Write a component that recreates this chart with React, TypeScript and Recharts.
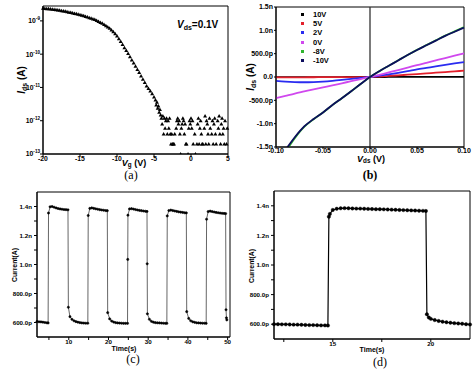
import React from "react";
import { ScatterChart, Scatter, LineChart, Line, XAxis, YAxis, ReferenceLine, ReferenceArea } from "recharts";

const SANS = '"Liberation Sans", Arial, Helvetica, sans-serif';
const SERIF = '"Liberation Serif", "Times New Roman", serif';

// (a) transfer curve, Vds = 0.1 V  [Vg (V), Ids (A)]
const sweepA: [number, number][] = [
  [-20, 2.4e-9], [-19.75, 2.37e-9], [-19.5, 2.34e-9], [-19.25, 2.32e-9], [-19, 2.29e-9],
  [-18.75, 2.25e-9], [-18.5, 2.21e-9], [-18.25, 2.18e-9], [-18, 2.14e-9], [-17.75, 2.09e-9],
  [-17.5, 2.04e-9], [-17.25, 2.0e-9], [-17, 1.95e-9], [-16.75, 1.9e-9], [-16.5, 1.84e-9],
  [-16.25, 1.79e-9], [-16, 1.74e-9], [-15.75, 1.69e-9], [-15.5, 1.64e-9], [-15.25, 1.59e-9],
  [-15, 1.55e-9], [-14.75, 1.49e-9], [-14.5, 1.43e-9], [-14.25, 1.37e-9], [-14, 1.32e-9],
  [-13.75, 1.26e-9], [-13.5, 1.2e-9], [-13.25, 1.15e-9], [-13, 1.1e-9], [-12.75, 1.03e-9],
  [-12.5, 9.66e-10], [-12.25, 9.08e-10], [-12, 8.51e-10], [-11.75, 7.82e-10], [-11.5, 7.16e-10],
  [-11.25, 6.58e-10], [-11, 6.03e-10], [-10.75, 5.37e-10], [-10.5, 4.73e-10], [-10.25, 4.12e-10],
  [-10, 3.55e-10], [-9.75, 2.92e-10], [-9.5, 2.4e-10], [-9.25, 1.95e-10], [-9, 1.58e-10],
  [-8.75, 1.29e-10], [-8.5, 1.05e-10], [-8.25, 8.41e-11], [-8, 6.76e-11], [-7.75, 5.43e-11],
  [-7.5, 4.37e-11], [-7.25, 3.51e-11], [-7, 2.82e-11], [-6.75, 2.24e-11], [-6.5, 1.78e-11],
  [-6.25, 1.41e-11], [-6, 1.12e-11], [-5.75, 9.3e-12], [-5.5, 7.9e-12], [-5.25, 6.5e-12],
  [-5, 5.2e-12], [-4.8, 4.2e-12], [-4.7, 3.0e-12], [-4.6, 3.6e-12], [-4.5, 2.4e-12],
  [-4.4, 2.8e-12], [-4.3, 1.8e-12], [-4.2, 2.2e-12], [-4.1, 1.5e-12],
];
const noiseA: [number, number][] = [
  [-4.0, 1.2e-12], [-3.9, 8e-13], [-3.8, 1.4e-12], [-3.7, 4e-13], [-3.6, 1.2e-12], [-3.5, 6e-13],
  [-3.4, 1e-12], [-3.3, 1.2e-12], [-3.2, 4e-13], [-3.1, 1e-12], [-3.0, 6e-13], [-2.9, 1.2e-12],
  [-2.8, 4e-13], [-2.7, 2e-13], [-2.6, 4e-13], [-2.5, 2e-13], [-2.4, 2e-13], [-2.3, 2e-13],
  [-2.2, 4e-13], [-2.0, 6e-13], [-1.9, 1e-12], [-1.8, 1.2e-12], [-1.7, 8e-13], [-1.6, 1e-12],
  [-1.5, 4e-13], [-1.4, 1e-13], [-1.3, 6e-13], [-1.2, 8e-13], [-1.1, 1.2e-12], [-1.0, 1e-12],
  [-0.9, 4e-13], [-0.8, 8e-13], [-0.7, 2e-13], [-0.6, 2e-13], [-0.4, 1e-13], [-0.3, 6e-13],
  [-0.2, 1e-12], [-0.1, 8e-13], [0.0, 1.2e-12], [0.1, 6e-13], [0.2, 1e-12], [0.3, 2e-13],
  [0.5, 4e-13], [0.6, 1e-13], [0.8, 2e-13], [0.9, 8e-13], [1.0, 1.2e-12], [1.1, 2e-13],
  [1.2, 6e-13], [1.3, 1e-12], [1.4, 4e-13], [1.5, 2e-13], [1.6, 2e-13], [1.8, 6e-13],
  [1.9, 1.4e-12], [2.0, 2e-13], [2.1, 1e-12], [2.2, 8e-13], [2.3, 4e-13], [2.4, 2e-13],
  [2.5, 1.2e-12], [2.6, 6e-13], [2.8, 4e-13], [2.9, 1e-12], [3.0, 2e-13], [3.1, 8e-13],
  [3.2, 1.2e-12], [3.3, 4e-13], [3.4, 2e-13], [3.6, 1e-12], [3.7, 6e-13], [3.8, 1.4e-12],
  [3.9, 4e-13], [4.0, 2e-13], [4.1, 8e-13], [4.2, 1.2e-12], [4.3, 4e-13], [4.4, 6e-13],
  [4.5, 2e-13], [4.6, 1e-12], [4.8, 2e-13], [4.9, 6e-13],
];
const xTicksA = [-20, -15, -10, -5, 0, 5];
const xLabelsA = ["-20", "-15", "-10", "-5", "0", "5"];
const yTicksA = [1e-13, 1e-12, 1e-11, 1e-10, 1e-9];
const yExpA = ["-13", "-12", "-11", "-10", "-9"];

// (b) output curves, Ids in nA
const vdsB = [-0.1, -0.09, -0.08, -0.07, -0.06, -0.05, -0.04, -0.03, -0.02, -0.01, 0, 0.01, 0.02, 0.03, 0.04, 0.05, 0.06, 0.07, 0.08, 0.09, 0.1];
const ids10V = [-0.002, -0.002, -0.002, -0.001, -0.001, -0.001, -0.001, -0.001, 0, 0, 0, 0, 0.001, 0.001, 0.001, 0.002, 0.002, 0.003, 0.003, 0.004, 0.004];
const ids5V = [-0.008, -0.007, -0.007, -0.006, -0.005, -0.004, -0.004, -0.003, -0.002, -0.001, 0, 0.01, 0.022, 0.035, 0.049, 0.063, 0.077, 0.092, 0.106, 0.121, 0.136];
const ids2V = [-0.082, -0.098, -0.108, -0.112, -0.108, -0.098, -0.082, -0.062, -0.04, -0.02, 0, 0.028, 0.058, 0.09, 0.125, 0.162, 0.195, 0.228, 0.26, 0.29, 0.318];
const ids0V = [-0.455, -0.405, -0.355, -0.31, -0.265, -0.222, -0.18, -0.135, -0.09, -0.045, 0, 0.048, 0.098, 0.148, 0.2, 0.255, 0.305, 0.355, 0.405, 0.458, 0.508];
const idsM8V = [-1.83, -1.6, -1.31, -1.07, -0.905, -0.762, -0.602, -0.456, -0.306, -0.151, 0, 0.126, 0.242, 0.357, 0.472, 0.582, 0.684, 0.785, 0.886, 0.977, 1.07];
const idsM10V = [-1.79, -1.56, -1.29, -1.06, -0.9, -0.76, -0.6, -0.455, -0.305, -0.15, 0, 0.125, 0.24, 0.355, 0.47, 0.579, 0.68, 0.78, 0.88, 0.97, 1.058];
const seriesB = [
  { key: "s10", name: "10V", color: "#000000", values: ids10V },
  { key: "s5", name: "5V", color: "#e3202c", values: ids5V },
  { key: "s2", name: "2V", color: "#2a2cf0", values: ids2V },
  { key: "s0", name: "0V", color: "#d048ee", values: ids0V },
  { key: "sm8", name: "-8V", color: "#2fb52f", values: idsM8V },
  { key: "sm10", name: "-10V", color: "#0d0d5e", values: idsM10V },
];
const xTicksB = [-0.1, -0.05, 0, 0.05, 0.1];
const xLabelsB = ["-0.10", "-0.05", "0.00", "0.05", "0.10"];
const yTicksB = [-1.5, -1, -0.5, 0, 0.5, 1, 1.5];
const yLabelsB = ["-1.5n", "-1.0n", "-500.0p", "0.0", "500.0p", "1.0n", "1.5n"];

// (c) repeated light pulses [time (s), current (nA)]
const pulseC: [number, number][] = [
  [2.0, 0.607], [2.5, 0.605], [3.0, 0.604], [3.5, 0.602], [4.0, 0.6], [4.5, 0.598], [4.8, 0.597],
  [4.9, 1.355], [5.3, 1.398], [5.8, 1.4], [6.3, 1.395], [6.8, 1.39], [7.3, 1.386], [7.8, 1.383], [8.3, 1.381], [8.8, 1.379], [9.3, 1.378], [9.8, 1.377],
  [9.9, 0.705], [10.3, 0.64], [10.8, 0.622], [11.3, 0.612], [11.8, 0.606], [12.3, 0.602], [12.8, 0.599], [13.3, 0.597], [13.8, 0.596], [14.3, 0.595], [14.8, 0.595],
  [14.9, 1.338], [15.3, 1.387], [15.8, 1.39], [16.3, 1.387], [16.8, 1.384], [17.3, 1.381], [17.8, 1.378], [18.3, 1.376], [18.8, 1.374], [19.3, 1.372], [19.7, 1.371],
  [19.8, 0.668], [20.3, 0.625], [20.8, 0.61], [21.3, 0.603], [21.8, 0.599], [22.3, 0.597], [22.8, 0.596], [23.3, 0.595], [23.8, 0.594], [24.3, 0.594], [24.8, 0.594],
  [24.85, 1.035], [24.9, 1.34], [25.3, 1.383], [25.8, 1.385], [26.3, 1.382], [26.8, 1.379], [27.3, 1.376], [27.8, 1.373], [28.3, 1.371], [28.8, 1.369], [29.3, 1.367], [29.7, 1.366],
  [29.75, 1.005], [29.8, 0.66], [30.3, 0.622], [30.8, 0.608], [31.3, 0.602], [31.8, 0.599], [32.3, 0.598], [32.8, 0.597], [33.3, 0.596], [33.8, 0.595], [34.3, 0.594], [34.7, 0.594],
  [34.8, 1.335], [35.2, 1.372], [35.7, 1.375], [36.2, 1.372], [36.7, 1.369], [37.2, 1.366], [37.7, 1.363], [38.2, 1.361], [38.7, 1.359], [39.2, 1.357], [39.6, 1.356],
  [39.7, 0.675], [40.2, 0.628], [40.7, 0.612], [41.2, 0.605], [41.7, 0.601], [42.2, 0.598], [42.7, 0.597], [43.2, 0.596], [43.7, 0.595], [44.2, 0.595], [44.6, 0.594],
  [44.7, 1.312], [45.1, 1.365], [45.6, 1.368], [46.1, 1.365], [46.6, 1.362], [47.1, 1.359], [47.6, 1.357], [48.1, 1.355], [48.6, 1.353], [49.1, 1.352], [49.5, 1.351],
  [49.6, 0.688], [49.7, 0.632], [49.8, 0.618],
];
const xTicksC = [5, 10, 15, 20, 25, 30, 35, 40, 45, 50];
const xLabelsC = ["", "10", "", "20", "", "30", "", "40", "", "50"];
const yTicksCD = [0.6, 0.7, 0.8, 0.9, 1.0, 1.1, 1.2, 1.3, 1.4];
const yLabelsCD = ["600.0p", "", "800.0p", "", "1.0n", "", "1.2n", "", "1.4n"];

// (d) single pulse
const pulseD: [number, number][] = [
  [12.0, 0.6], [12.2, 0.6], [12.4, 0.599], [12.6, 0.599], [12.8, 0.598], [13.0, 0.597], [13.2, 0.597], [13.4, 0.596],
  [13.6, 0.595], [13.8, 0.594], [14.0, 0.594], [14.2, 0.593], [14.4, 0.592], [14.6, 0.592], [14.75, 0.591],
  [14.8, 1.326], [14.85, 1.345], [15.0, 1.372], [15.2, 1.38], [15.4, 1.383], [15.6, 1.384], [15.8, 1.383], [16.0, 1.382],
  [16.2, 1.381], [16.4, 1.381], [16.6, 1.38], [16.8, 1.379], [17.0, 1.378], [17.2, 1.377], [17.4, 1.377], [17.6, 1.376],
  [17.8, 1.375], [18.0, 1.374], [18.2, 1.373], [18.4, 1.372], [18.6, 1.371], [18.8, 1.37], [19.0, 1.369], [19.2, 1.368],
  [19.4, 1.367], [19.6, 1.366], [19.75, 1.365],
  [19.8, 0.667], [19.9, 0.645], [20.0, 0.636], [20.2, 0.628], [20.4, 0.622], [20.6, 0.617], [20.8, 0.613], [21.0, 0.61],
  [21.2, 0.607], [21.4, 0.605], [21.6, 0.603], [21.8, 0.6], [22.0, 0.598],
];
const xTicksD = [12.5, 15, 17.5, 20];
const xLabelsD = ["", "15", "", "20"];

const tickFont = (size: number) => ({ fontFamily: SANS, fontSize: size, fontWeight: 700, fill: "#000" });
const axisProps = { axisLine: { stroke: "#000" }, tickLine: { stroke: "#000" }, tickMargin: 0, interval: 0 as const };

const yTick = (labels: string[], dx: number, size: number) => (p: any) => (
  <text x={p.x + dx} y={p.y + size * 0.35} textAnchor="end" style={tickFont(size)}>{labels[p.index]}</text>
);
const xTick = (labels: string[], dy: number, size: number) => (p: any) => (
  <text x={p.x} y={p.y + dy} textAnchor="middle" style={tickFont(size)}>{labels[p.index]}</text>
);
const logTick = (p: any) => (
  <text x={p.x} y={p.y + 2.4} textAnchor="end" style={tickFont(6.8)}>
    10<tspan dy={-3} fontSize={4.6}>{yExpA[p.index]}</tspan>
  </text>
);

const Triangle = (p: any) => (
  <polygon points={`${p.cx - 2},${p.cy + 1.6} ${p.cx + 2},${p.cy + 1.6} ${p.cx},${p.cy - 1.9}`} fill="#000" />
);

function Title({ x, y, rotate, size = 10, children }: any) {
  return (
    <div
      style={{
        position: "absolute", left: x, top: y, whiteSpace: "nowrap", fontFamily: SANS, fontWeight: 700,
        fontSize: size, lineHeight: 1, transform: `translate(-50%, -50%)${rotate ? " rotate(-90deg)" : ""}`,
      }}
    >
      {children}
    </div>
  );
}
const Sub = ({ children }: any) => (
  <span style={{ fontSize: "0.7em", position: "relative", top: "0.25em" }}>{children}</span>
);
function PanelTag({ x, y, bold, children }: any) {
  return (
    <div style={{ position: "absolute", left: x, top: y, transform: "translate(-50%, -50%)", fontFamily: SERIF, fontSize: 12, fontWeight: bold ? 700 : 400, lineHeight: 1 }}>
      {children}
    </div>
  );
}

export default function App() {
  const pointsA = sweepA.concat(noiseA).map(([x, y]) => ({ x, y }));
  const tableB = vdsB.map((v, i) => {
    const row: any = { v };
    seriesB.forEach((s) => (row[s.key] = s.values[i]));
    return row;
  });
  const dataC = pulseC.map(([t, i]) => ({ t, i }));
  const dataD = pulseD.map(([t, i]) => ({ t, i }));

  return (
    <div style={{ position: "absolute", left: 0, top: 0, width: 474, height: 370, background: "#fff", overflow: "hidden" }}>
      {/* (a) */}
      <div style={{ position: "absolute", left: 0, top: 0 }}>
        <ScatterChart width={237} height={185} margin={{ top: 6, right: 9, left: 0, bottom: 0 }}>
          <XAxis type="number" dataKey="x" domain={[-20, 5]} ticks={xTicksA} height={31} tickSize={3} tick={xTick(xLabelsA, 4.3, 6.8)} {...axisProps} />
          <YAxis type="number" dataKey="y" scale="log" domain={[1e-13, 2.8e-9]} allowDataOverflow ticks={yTicksA} width={43} tickSize={3} tick={logTick} {...axisProps} />
          <ReferenceArea x1={-20} x2={5} y1={1e-13} y2={2.8e-9} fill="none" stroke="#000" strokeWidth={1} />
          <Scatter data={pointsA} shape={Triangle} isAnimationActive={false} />
        </ScatterChart>
      </div>

      {/* (b) */}
      <div style={{ position: "absolute", left: 237, top: 0 }}>
        <LineChart width={237} height={185} data={tableB} margin={{ top: 7, right: 10, left: 0, bottom: 0 }}>
          <XAxis type="number" dataKey="v" domain={[-0.1, 0.1]} ticks={xTicksB} height={38} tickSize={2} tick={xTick(xLabelsB, 3.7, 7)} {...axisProps} />
          <YAxis type="number" domain={[-1.5, 1.5]} allowDataOverflow ticks={yTicksB} width={39} tickSize={2} tick={yTick(yLabelsB, -1, 7)} {...axisProps} />
          <ReferenceArea x1={-0.1} x2={0.1} y1={-1.5} y2={1.5} fill="none" stroke="#000" strokeWidth={1} />
          <ReferenceLine x={0} stroke="#333" strokeWidth={1.3} />
          {seriesB.map((s) => (
            <Line key={s.key} type="monotone" dataKey={s.key} stroke={s.color} strokeWidth={1.8} dot={false} isAnimationActive={false} />
          ))}
        </LineChart>
      </div>

      {/* (c) */}
      <div style={{ position: "absolute", left: 0, top: 185 }}>
        <LineChart width={237} height={185} data={dataC} margin={{ top: 7, right: 7, left: 0, bottom: 0 }}>
          <XAxis type="number" dataKey="t" domain={[2, 50.6]} ticks={xTicksC} height={33} tickSize={3} tick={xTick(xLabelsC, 3.9, 6.2)} {...axisProps} />
          <YAxis type="number" domain={[0.5, 1.5]} ticks={yTicksCD} width={37} tickSize={3} tick={yTick(yLabelsCD, -2, 6.2)} {...axisProps} />
          <ReferenceArea x1={2} x2={50.6} y1={0.5} y2={1.5} fill="none" stroke="#000" strokeWidth={1} />
          <Line type="linear" dataKey="i" stroke="#555" strokeWidth={0.9} dot={{ r: 1.1, fill: "#000", stroke: "#000", strokeWidth: 0.6 }} isAnimationActive={false} />
        </LineChart>
      </div>

      {/* (d) */}
      <div style={{ position: "absolute", left: 237, top: 185 }}>
        <LineChart width={237} height={185} data={dataD} margin={{ top: 6, right: 4, left: 0, bottom: 0 }}>
          <XAxis type="number" dataKey="t" domain={[12, 22]} ticks={xTicksD} height={31} tickSize={3} tick={xTick(xLabelsD, 4.2, 6.2)} {...axisProps} />
          <YAxis type="number" domain={[0.5, 1.5]} ticks={yTicksCD} width={37} tickSize={3} tick={yTick(yLabelsCD, -2, 6.2)} {...axisProps} />
          <ReferenceArea x1={12} x2={22} y1={0.5} y2={1.5} fill="none" stroke="#000" strokeWidth={1} />
          <Line type="linear" dataKey="i" stroke="#000" strokeWidth={1.2} dot={{ r: 1.7, fill: "#000", stroke: "#000", strokeWidth: 0.4 }} isAnimationActive={false} />
        </LineChart>
      </div>

      {/* titles (a) */}
      <Title x={22} y={80} rotate><i>I</i><Sub>ds</Sub> (A)</Title>
      <Title x={134} y={162.5} size={9}><i>V</i><Sub>g</Sub> (V)</Title>
      <div style={{ position: "absolute", left: 177, top: 20, fontFamily: SANS, fontWeight: 700, fontSize: 10, lineHeight: 1, whiteSpace: "nowrap" }}>
        <i>V</i><Sub>ds</Sub>=0.1V
      </div>
      <PanelTag x={131} y={175}>(a)</PanelTag>

      {/* titles (b) + legend */}
      <Title x={251} y={77} rotate><i>I</i><Sub>ds</Sub> (A)</Title>
      <Title x={371} y={158.5} size={9}><i>V</i><Sub>ds</Sub> (V)</Title>
      {seriesB.map((s, i) => (
        <div key={s.key} style={{ position: "absolute", left: 301, top: 10 + i * 9.2, height: 9, display: "flex", alignItems: "center", fontFamily: SANS, fontWeight: 700, fontSize: 7.5, whiteSpace: "nowrap" }}>
          <span style={{ display: "inline-block", width: 3, height: 3, background: s.color, marginRight: 9 }} />
          {s.name}
        </div>
      ))}
      <PanelTag x={370} y={175} bold>(b)</PanelTag>

      {/* titles (c) */}
      <Title x={15} y={265} rotate size={6.8}>Current(A)</Title>
      <Title x={124} y={348} size={7}>Time(s)</Title>
      <PanelTag x={133} y={359}>(c)</PanelTag>

      {/* titles (d) */}
      <Title x={252} y={266} rotate size={6.8}>Current(A)</Title>
      <Title x={372} y={349} size={7}>Time(s)</Title>
      <PanelTag x={380} y={362}>(d)</PanelTag>
    </div>
  );
}
